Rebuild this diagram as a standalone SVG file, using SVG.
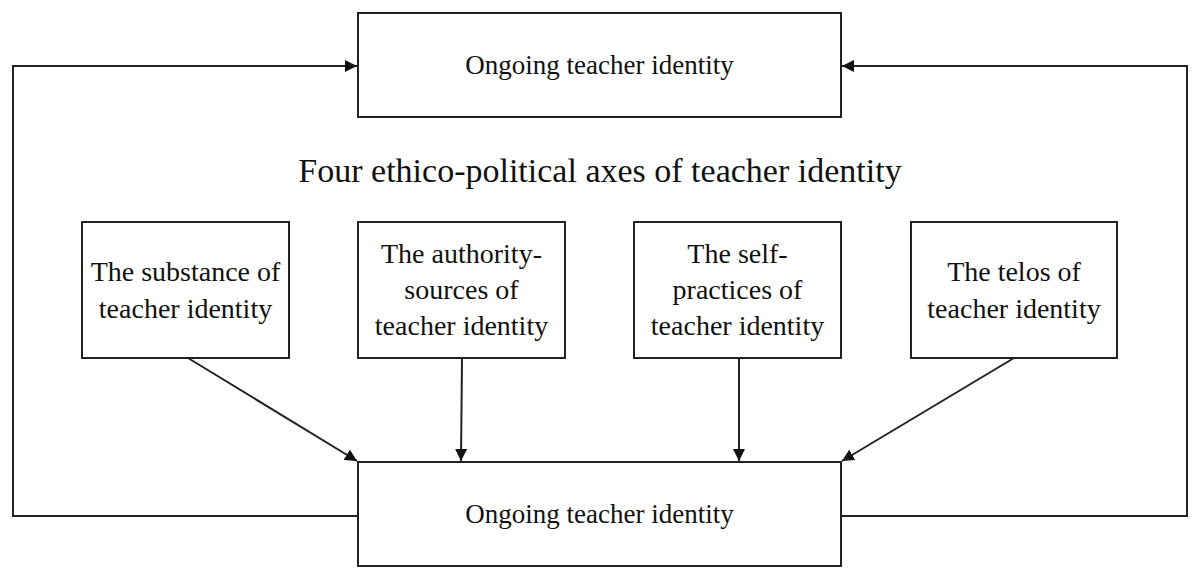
<svg xmlns="http://www.w3.org/2000/svg" width="1200" height="580" viewBox="0 0 1200 580">
<style>
.box{fill:#fff;stroke:#222;stroke-width:2}
.t{font-family:"Liberation Serif","Times New Roman",serif;font-size:28px;fill:#111;text-anchor:middle}
.big{font-size:27px}
.title{font-family:"Liberation Serif","Times New Roman",serif;font-size:34px;fill:#111;text-anchor:middle}
.c{fill:none;stroke:#222;stroke-width:2}
</style>
<defs>
<marker id="ah" markerUnits="userSpaceOnUse" markerWidth="13" markerHeight="12" refX="12" refY="6" orient="auto">
<path d="M0,0 L12,6 L0,12 z" fill="#111"/>
</marker>
</defs>
<rect width="1200" height="580" fill="#fff"/>
<g id="connectors">
<polyline class="c" points="358,516 13,516 13,66 357,66" marker-end="url(#ah)"/>
<polyline class="c" points="841,516 1187,516 1187,66 842,66" marker-end="url(#ah)"/>
<line class="c" x1="188" y1="358" x2="357" y2="461" marker-end="url(#ah)"/>
<line class="c" x1="462" y1="358" x2="461" y2="461" marker-end="url(#ah)"/>
<line class="c" x1="739" y1="358" x2="739" y2="461" marker-end="url(#ah)"/>
<line class="c" x1="1014" y1="358" x2="842" y2="461" marker-end="url(#ah)"/>
</g>
<g id="top">
<rect class="box" x="358" y="13" width="483" height="104"/>
<text class="t big" x="599.5" y="74">Ongoing teacher identity</text>
</g>
<text id="title" class="title" x="600" y="182">Four ethico-political axes of teacher identity</text>
<g id="substance">
<rect class="box" x="82" y="222" width="207" height="136"/>
<text class="t" x="185.5" y="281">The substance of</text>
<text class="t" x="185.5" y="318">teacher identity</text>
</g>
<g id="authority">
<rect class="box" x="358" y="222" width="207" height="136"/>
<text class="t" x="461.5" y="263">The authority-</text>
<text class="t" x="461.5" y="299">sources of</text>
<text class="t" x="461.5" y="335">teacher identity</text>
</g>
<g id="selfpractices">
<rect class="box" x="634" y="222" width="207" height="136"/>
<text class="t" x="737.5" y="263">The self-</text>
<text class="t" x="737.5" y="299">practices of</text>
<text class="t" x="737.5" y="335">teacher identity</text>
</g>
<g id="telos">
<rect class="box" x="911" y="222" width="206" height="136"/>
<text class="t" x="1014" y="281">The telos of</text>
<text class="t" x="1014" y="318">teacher identity</text>
</g>
<g id="bottom">
<rect class="box" x="358" y="462" width="483" height="104"/>
<text class="t big" x="599.5" y="523">Ongoing teacher identity</text>
</g>
</svg>
